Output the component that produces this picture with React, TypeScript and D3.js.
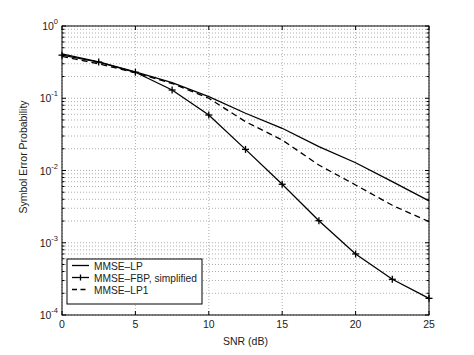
import React from "react";
import * as d3 from "d3";

const snr = [0, 2.5, 5, 7.5, 10, 12.5, 15, 17.5, 20, 22.5, 25];
const mmseLP = [0.41, 0.318, 0.232, 0.164, 0.105, 0.062, 0.0384, 0.0214, 0.0128, 0.007, 0.0038];
const mmseFBP = [0.395, 0.317, 0.229, 0.13, 0.0586, 0.0196, 0.00645, 0.00202, 0.0007, 0.000312, 0.00017];
const mmseLP1 = [0.38, 0.3, 0.225, 0.16, 0.1, 0.0474, 0.0264, 0.0119, 0.0063, 0.0033, 0.00196];
const xTicks = [0, 5, 10, 15, 20, 25];
const yExponents = [0, -1, -2, -3, -4];
const legendLabels = ["MMSE–LP", "MMSE–FBP, simplified", "MMSE–LP1"];

export default function App() {
  const W = 474, H = 355;
  const L = 62, R = 429, T = 26, B = 315;
  const x = d3.scaleLinear().domain([0, 25]).range([L, R]);
  const y = d3.scaleLog().domain([1e-4, 1]).range([B, T]);
  const line = d3.line<number>().x((_, i) => x(snr[i])).y((d) => y(d));

  const minors: number[] = [];
  for (let e = -4; e < 0; e++) for (let m = 2; m <= 9; m++) minors.push(m * Math.pow(10, e));
  const font = "Liberation Sans, Arial, Helvetica, sans-serif";
  const grid = "#9a9a9a";

  return (
    <svg width={W} height={H} style={{ position: "absolute", left: 0, top: 0 }} fontFamily={font}>
      <rect x={0} y={0} width={W} height={H} fill="#fff" />
      {/* grid */}
      {yExponents.map((e) => (
        <line key={"gy" + e} x1={L} x2={R} y1={y(Math.pow(10, e))} y2={y(Math.pow(10, e))} stroke={grid} strokeWidth={0.8} strokeDasharray="1,2" />
      ))}
      {minors.map((v, i) => (
        <line key={"gm" + i} x1={L} x2={R} y1={y(v)} y2={y(v)} stroke={grid} strokeWidth={0.8} strokeDasharray="1,2" />
      ))}
      {xTicks.map((t) => (
        <line key={"gx" + t} x1={x(t)} x2={x(t)} y1={T} y2={B} stroke={grid} strokeWidth={0.8} strokeDasharray="1,2" />
      ))}
      {/* ticks */}
      {xTicks.map((t) => (
        <g key={"tx" + t}>
          <line x1={x(t)} x2={x(t)} y1={B} y2={B - 4} stroke="#000" />
          <line x1={x(t)} x2={x(t)} y1={T} y2={T + 4} stroke="#000" />
          <text x={x(t)} y={B + 13} textAnchor="middle" fontSize={10.5} fill="#222">{t}</text>
        </g>
      ))}
      {yExponents.map((e) => (
        <g key={"ty" + e}>
          <line x1={L} x2={L + 4} y1={y(Math.pow(10, e))} y2={y(Math.pow(10, e))} stroke="#000" />
          <line x1={R} x2={R - 4} y1={y(Math.pow(10, e))} y2={y(Math.pow(10, e))} stroke="#000" />
          <text x={L - 4} y={y(Math.pow(10, e)) + 4} textAnchor="end" fontSize={10.5} fill="#222">
            10<tspan dy={-6} fontSize={7.5}>{e}</tspan>
          </text>
        </g>
      ))}
      {minors.map((v, i) => (
        <g key={"tm" + i}>
          <line x1={L} x2={L + 2.5} y1={y(v)} y2={y(v)} stroke="#000" />
          <line x1={R} x2={R - 2.5} y1={y(v)} y2={y(v)} stroke="#000" />
        </g>
      ))}
      <rect x={L} y={T} width={R - L} height={B - T} fill="none" stroke="#000" strokeWidth={1} />
      {/* series */}
      <path d={line(mmseLP) || ""} fill="none" stroke="#000" strokeWidth={1.3} />
      <path d={line(mmseLP1) || ""} fill="none" stroke="#000" strokeWidth={1.3} strokeDasharray="6,4" />
      <path d={line(mmseFBP) || ""} fill="none" stroke="#000" strokeWidth={1.3} />
      {mmseFBP.map((v, i) => (
        <g key={"mk" + i} stroke="#000" strokeWidth={1.3}>
          <line x1={x(snr[i]) - 3.5} x2={x(snr[i]) + 3.5} y1={y(v)} y2={y(v)} />
          <line x1={x(snr[i])} x2={x(snr[i])} y1={y(v) - 3.5} y2={y(v) + 3.5} />
        </g>
      ))}
      {/* legend */}
      <rect x={67} y={259} width={135} height={45} fill="#fff" stroke="#000" strokeWidth={1} />
      {legendLabels.map((lab, i) => {
        const ly = 265.5 + i * 12;
        return (
          <g key={"lg" + i}>
            <line x1={72} x2={89} y1={ly} y2={ly} stroke="#000" strokeWidth={1.3} strokeDasharray={i === 2 ? "5,3.5" : undefined} />
            {i === 1 && (
              <line x1={80.5} x2={80.5} y1={ly - 3} y2={ly + 3} stroke="#000" strokeWidth={1.3} />
            )}
            <text x={94} y={ly + 4} fontSize={10.2} fill="#222">{lab}</text>
          </g>
        );
      })}
      {/* axis labels */}
      <text x={(L + R) / 2} y={345} textAnchor="middle" fontSize={10.5} fill="#222">SNR (dB)</text>
      <text transform={`translate(27,157) rotate(-90)`} textAnchor="middle" fontSize={10.5} fill="#222">Symbol Error Probability</text>
    </svg>
  );
}
